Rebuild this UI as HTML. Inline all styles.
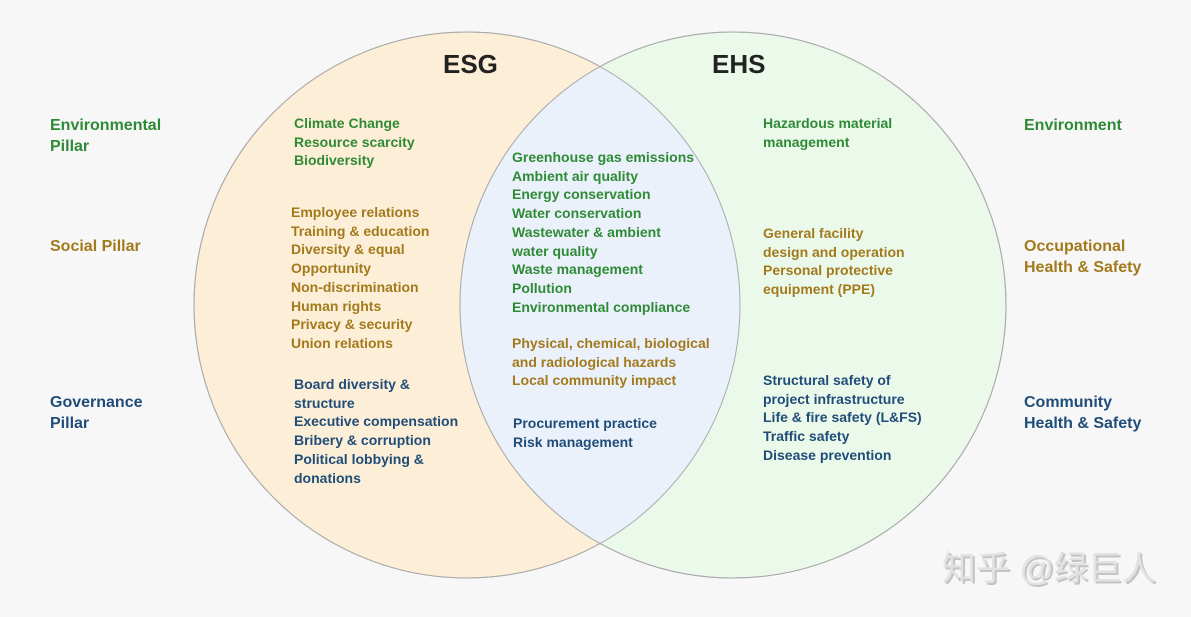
<!DOCTYPE html>
<html><head><meta charset="utf-8"><style>
html,body{margin:0;padding:0;background:#f7f7f7;}
.w{position:relative;width:1191px;height:617px;overflow:hidden;font-family:"Liberation Sans","Noto Sans CJK SC",sans-serif;font-weight:bold;}
.t{position:absolute;font-size:14px;line-height:18.7px;white-space:nowrap;}
.g{color:#2f8a35}.b{color:#a27a1c}.n{color:#1f4c78}
.l{font-size:16px;line-height:21px}
</style></head><body><div class="w">
<svg width="1191" height="617" style="position:absolute;left:0;top:0">
<defs><clipPath id="c1"><circle cx="467" cy="305" r="273"/></clipPath></defs>
<circle cx="467" cy="305" r="273" fill="#fdefd7" stroke="#aaa" stroke-width="1"/>
<circle cx="733" cy="305" r="273" fill="#ebf9eb" stroke="#aaa" stroke-width="1"/>
<circle cx="733" cy="305" r="273" fill="#ebf1fb" clip-path="url(#c1)"/>
<circle cx="467" cy="305" r="273" fill="none" stroke="#aaa" stroke-width="1"/>
<circle cx="733" cy="305" r="273" fill="none" stroke="#aaa" stroke-width="1"/>
</svg>
<div class="t" style="left:443px;top:48px;font-size:26px;line-height:32px;color:#222">ESG</div>
<div class="t" style="left:712px;top:48px;font-size:26px;line-height:32px;color:#222">EHS</div>

<div class="t l g" style="left:50px;top:115px">Environmental<br>Pillar</div>
<div class="t l b" style="left:50px;top:236px">Social Pillar</div>
<div class="t l n" style="left:50px;top:392px">Governance<br>Pillar</div>
<div class="t l g" style="left:1024px;top:115px">Environment</div>
<div class="t l b" style="left:1024px;top:236px">Occupational<br>Health &amp; Safety</div>
<div class="t l n" style="left:1024px;top:392px">Community<br>Health &amp; Safety</div>

<div class="t g" style="left:294px;top:114px">Climate Change<br>Resource scarcity<br>Biodiversity</div>
<div class="t b" style="left:291px;top:203px">Employee relations<br>Training &amp; education<br>Diversity &amp; equal<br>Opportunity<br>Non-discrimination<br>Human rights<br>Privacy &amp; security<br>Union relations</div>
<div class="t n" style="left:294px;top:375px">Board diversity &amp;<br>structure<br>Executive compensation<br>Bribery &amp; corruption<br>Political lobbying &amp;<br>donations</div>

<div class="t g" style="left:512px;top:148px">Greenhouse gas emissions<br>Ambient air quality<br>Energy conservation<br>Water conservation<br>Wastewater &amp; ambient<br>water quality<br>Waste management<br>Pollution<br>Environmental compliance</div>
<div class="t b" style="left:512px;top:334px">Physical, chemical, biological<br>and radiological hazards<br>Local community impact</div>
<div class="t n" style="left:513px;top:414px">Procurement practice<br>Risk management</div>

<div class="t g" style="left:763px;top:114px">Hazardous material<br>management</div>
<div class="t b" style="left:763px;top:224px">General facility<br>design and operation<br>Personal protective<br>equipment (PPE)</div>
<div class="t n" style="left:763px;top:371px">Structural safety of<br>project infrastructure<br>Life &amp; fire safety (L&amp;FS)<br>Traffic safety<br>Disease prevention</div>

<div class="t" style="left:942px;top:549px;font-size:34px;line-height:40px;color:#e2e2e2;font-weight:normal;text-shadow:2px 2px 0 #c4c4c4">知乎 @绿巨人</div>
</div></body></html>
